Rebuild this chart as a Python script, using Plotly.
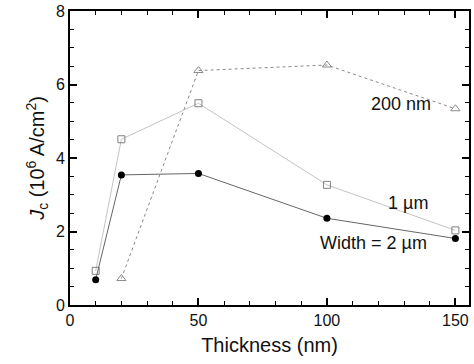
import plotly.graph_objects as go

thickness = [10, 20, 50, 100, 150]
jc_2um = [0.69, 3.54, 3.58, 2.36, 1.81]
jc_1um = [0.93, 4.51, 5.49, 3.27, 2.03]
thickness_200nm = [20, 50, 100, 150]
jc_200nm = [0.72, 6.38, 6.53, 5.34]

FONT = "Liberation Sans, Arial, sans-serif"

fig = go.Figure()
fig.add_trace(go.Scatter(x=thickness, y=jc_1um, mode="lines+markers",
                         line=dict(color="#c4c4c4", width=1),
                         marker=dict(symbol="square-open", size=7, color="#808080", line=dict(width=1))))
fig.add_trace(go.Scatter(x=thickness_200nm, y=jc_200nm, mode="lines+markers",
                         line=dict(color="#8a8a8a", width=1, dash="dot"),
                         marker=dict(symbol="triangle-up-open", size=8, color="#8a8a8a", line=dict(width=1))))
fig.add_trace(go.Scatter(x=thickness, y=jc_2um, mode="lines+markers",
                         line=dict(color="#666666", width=1),
                         marker=dict(symbol="circle", size=7, color="#000000")))

fig.add_annotation(x=128.7, y=5.46, text="200 nm", showarrow=False, font=dict(size=18, family=FONT, color="#111"))
fig.add_annotation(x=131.4, y=2.78, text="1 µm", showarrow=False, font=dict(size=18, family=FONT, color="#111"))
fig.add_annotation(x=118.2, y=1.70, text="Width = 2 µm", showarrow=False, font=dict(size=18, family=FONT, color="#111"))

axis_common = dict(showline=True, linecolor="black", linewidth=1.8, mirror="allticks",
                   ticks="inside", ticklen=7, tickwidth=1.5, tickcolor="black",
                   showgrid=False, zeroline=False,
                   tickfont=dict(size=16, family=FONT, color="#111"))

fig.update_xaxes(range=[0, 155.3], tickvals=[0, 50, 100, 150],
                 minor=dict(dtick=10, tick0=0, ticks="inside", ticklen=4, tickwidth=1.2, tickcolor="black", showgrid=False),
                 title=dict(text="Thickness (nm)", font=dict(size=20, family=FONT, color="#111"), standoff=10),
                 **axis_common)
fig.update_yaxes(range=[0, 8], tickvals=[0, 2, 4, 6, 8],
                 minor=dict(dtick=0.5, tick0=0, ticks="inside", ticklen=4, tickwidth=1.2, tickcolor="black", showgrid=False),
                 title=dict(text="<i>J</i><sub>c</sub> (10<sup>6</sup> A/cm<sup>2</sup>)",
                            font=dict(size=20, family=FONT, color="#111"), standoff=6),
                 **axis_common)

fig.update_layout(width=474, height=364, showlegend=False,
                  margin=dict(l=70, r=3, t=9, b=59),
                  plot_bgcolor="white", paper_bgcolor="white",
                  font=dict(family=FONT))

fig.write_html("out.html", config={"displayModeBar": False},
               post_script="document.body.style.margin='0';")
